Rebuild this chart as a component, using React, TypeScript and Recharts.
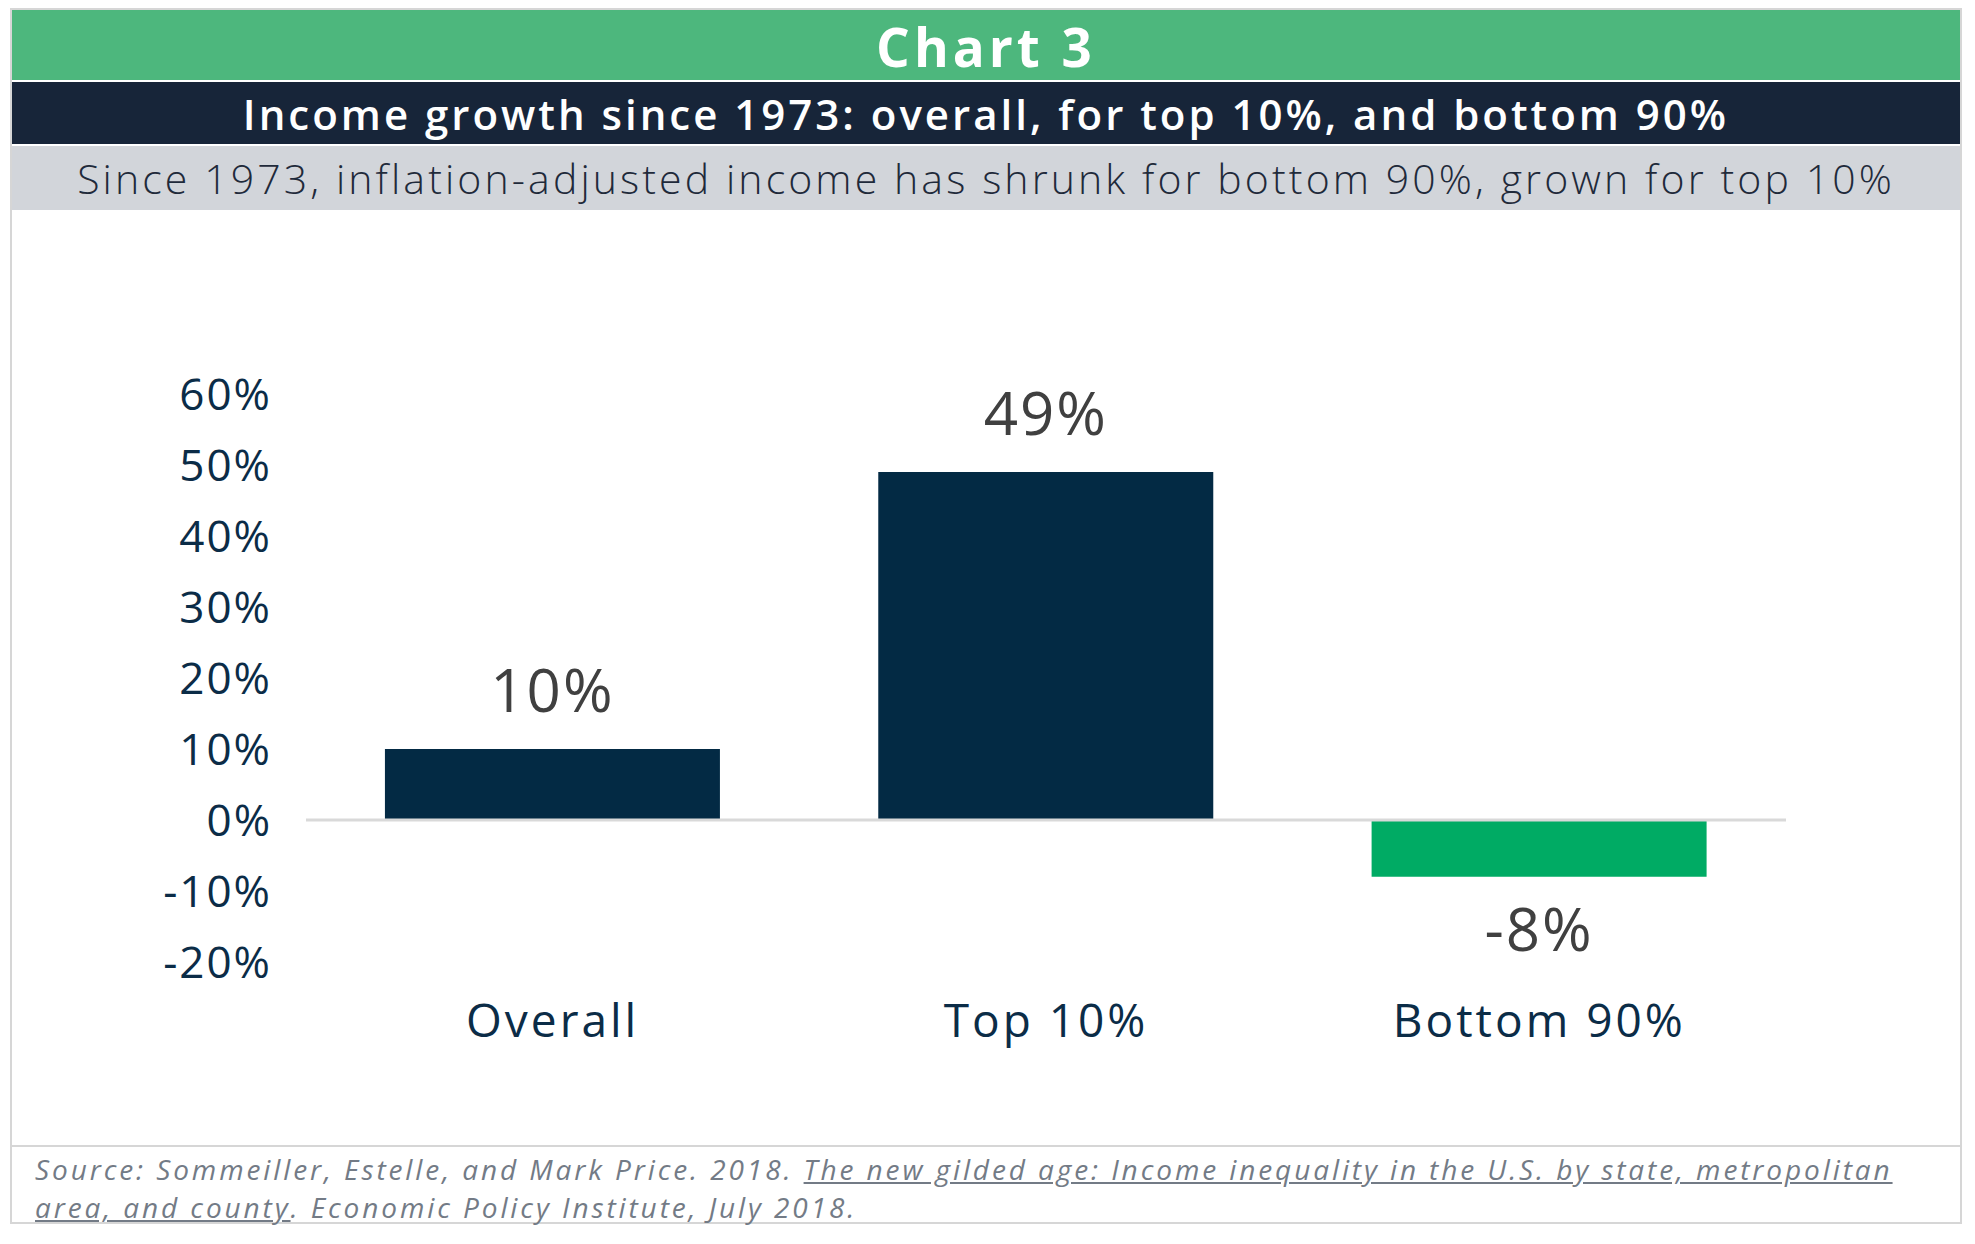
import { Bar, BarChart, Cell, LabelList, ReferenceLine, XAxis, YAxis } from "recharts"

const groups = ["Overall", "Top 10%", "Bottom 90%"]
const growth = [10, 49, -8]
const barColors = ["#032a44", "#032a44", "#00ab64"]
const yTicks = [-20, -10, 0, 10, 20, 30, 40, 50, 60]

const data = groups.map((name, i) => ({ name, value: growth[i] }))

const FONT = "'Open Sans', 'Noto Sans', sans-serif"
const NAVY_TEXT = "#0b2c47"

// value label above positive bars, below negative ones
function ValueLabel(props: any) {
  const { x, y, width, height, value } = props
  const top = Math.min(y, y + height)
  const bottom = Math.max(y, y + height)
  const cy = value >= 0 ? top - 60 : bottom + 51
  return (
    <text
      x={x + width / 2}
      y={cy}
      textAnchor="middle"
      dominantBaseline="central"
      fill="#404040"
      fontSize={60}
      letterSpacing={2}
      fontFamily={FONT}
    >
      {`${value}%`}
    </text>
  )
}

const footerLine = {
  position: "absolute" as const,
  left: 35,
  fontSize: 28,
  lineHeight: "38px",
  height: 38,
  letterSpacing: 2.9,
  fontStyle: "italic",
  color: "#737b86",
  whiteSpace: "nowrap" as const,
}

export default function App() {
  return (
    <div
      style={{
        position: "absolute",
        left: 0,
        top: 0,
        width: 1975,
        height: 1244,
        background: "#fff",
        fontFamily: FONT,
      }}
    >
      <div
        style={{
          position: "absolute",
          left: 10,
          top: 8,
          width: 1952,
          height: 1216,
          border: "2px solid #d6d6d6",
          boxSizing: "border-box",
        }}
      />
      <div
        style={{
          position: "absolute",
          left: 12,
          top: 10,
          width: 1948,
          height: 70,
          background: "#4db77d",
          color: "#fff",
          fontSize: 53,
          fontWeight: 700,
          letterSpacing: 4,
          display: "flex",
          alignItems: "center",
          justifyContent: "center",
          paddingTop: 2,
          boxSizing: "border-box",
        }}
      >
        Chart 3
      </div>
      <div
        style={{
          position: "absolute",
          left: 12,
          top: 82,
          width: 1948,
          height: 62,
          background: "#172539",
          color: "#fff",
          fontSize: 42,
          fontWeight: 600,
          letterSpacing: 3,
          display: "flex",
          alignItems: "center",
          justifyContent: "center",
        }}
      >
        Income growth since 1973: overall, for top 10%, and bottom 90%
      </div>
      <div
        style={{
          position: "absolute",
          left: 12,
          top: 146,
          width: 1948,
          height: 64,
          background: "#d2d5da",
          color: "#1f2a3a",
          fontSize: 41,
          fontWeight: 300,
          letterSpacing: 3.1,
          display: "flex",
          alignItems: "center",
          justifyContent: "center",
        }}
      >
        Since 1973, inflation-adjusted income has shrunk for bottom 90%, grown for top 10%
      </div>

      <div style={{ position: "absolute", left: 11, top: 210 }}>
        <BarChart
          width={1950}
          height={936}
          data={data}
          margin={{ top: 184, right: 175, bottom: 84, left: 0 }}
          barCategoryGap="16%"
        >
          <XAxis
            dataKey="name"
            axisLine={false}
            tickLine={false}
            interval={0}
            height={100}
            tickMargin={36}
            tick={{ fill: NAVY_TEXT, fontSize: 46, fontFamily: FONT, letterSpacing: 3 }}
          />
          <YAxis
            type="number"
            domain={[-20, 60]}
            ticks={yTicks}
            width={295}
            axisLine={false}
            tickLine={false}
            tickMargin={28}
            tickFormatter={(v) => `${v}%`}
            tick={{ fill: NAVY_TEXT, fontSize: 44, fontFamily: FONT, letterSpacing: 2 }}
          />
          <ReferenceLine y={0} stroke="#d9d9d9" strokeWidth={3} />
          <Bar dataKey="value" isAnimationActive={false}>
            {data.map((d, i) => (
              <Cell key={d.name} fill={barColors[i]} />
            ))}
            <LabelList dataKey="value" content={ValueLabel} />
          </Bar>
        </BarChart>
      </div>

      <div
        style={{
          position: "absolute",
          left: 12,
          top: 1145,
          width: 1948,
          height: 2,
          background: "#d6d6d6",
        }}
      />
      <div style={{ ...footerLine, top: 1150 }}>
        Source: Sommeiller, Estelle, and Mark Price. 2018.{" "}
        <span style={{ textDecoration: "underline" }}>
          The new gilded age: Income inequality in the U.S. by state, metropolitan
        </span>
      </div>
      <div style={{ ...footerLine, top: 1188 }}>
        <span style={{ textDecoration: "underline" }}>area, and county</span>. Economic Policy
        Institute, July 2018.
      </div>
    </div>
  )
}
